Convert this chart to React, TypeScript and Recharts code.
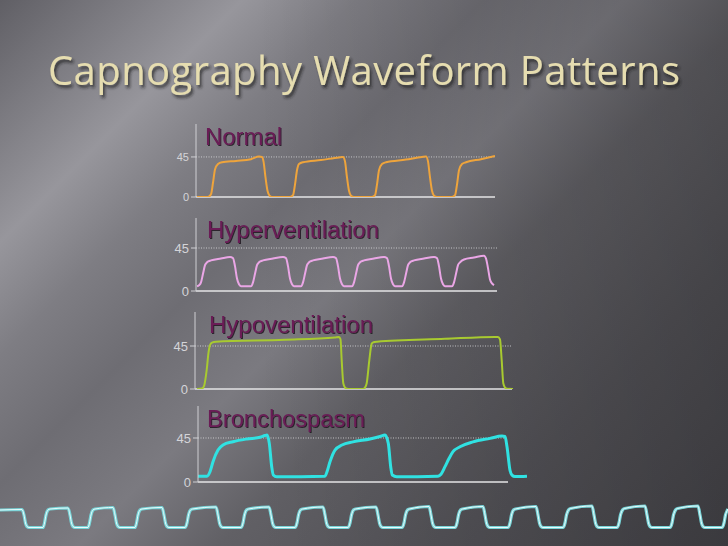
import { Line, LineChart, ReferenceLine, XAxis, YAxis } from "recharts";

const titleText = "Capnography Waveform Patterns";
const panelLabels = ["Normal", "Hyperventilation", "Hypoventilation", "Bronchospasm"];
const yTicks = [0, 45];

// time (arbitrary units) / CO2 (mmHg)
const normalTime = [
	1, 12, 15, 17, 19, 22, 26, 40, 55, 63, 66, 67.5, 69.5, 71.5, 73.5, 76,
	94, 97, 99, 101, 103, 107, 125, 143, 147, 149, 151, 153, 155, 158,
	176, 179, 181, 183, 186, 190, 210, 226, 230, 232, 234, 236, 238, 241,
	256, 259, 261, 263, 266, 270, 285, 299,
];
const normalCo2 = [
	0, 0, 3, 16, 31, 37, 39, 40.5, 42.5, 45.5, 45, 40, 22, 7, 1.5, 0,
	0, 2, 14, 30, 37, 39, 41.5, 44.5, 45, 40, 22, 7, 1.5, 0,
	0, 2, 14, 30, 37, 39, 42, 45, 45.5, 40, 22, 7, 1.5, 0,
	0, 2, 14, 30, 37, 39, 42.5, 46,
];

const hyperTime = [
	1, 3, 5, 7, 9, 11, 15, 25, 34, 37, 39, 41, 43, 45, 55,
	57, 59, 61, 63, 67, 77, 87, 90, 92, 94, 96, 98, 105,
	107, 109, 111, 113, 117, 127, 137, 140, 142, 144, 146, 148, 156,
	158, 160, 162, 164, 168, 178, 188, 191, 193, 195, 197, 199, 206,
	208, 210, 212, 214, 218, 228, 238, 241, 243, 245, 247, 249, 256,
	258, 260, 262, 264, 268, 278, 288, 290, 292, 294, 296, 298,
];
const hyperCo2 = [
	5, 6, 9, 18, 27, 30, 32, 34, 35.5, 34.5, 26, 13, 7, 5, 5,
	9, 18, 27, 30, 32, 34, 35.5, 34.5, 26, 13, 7, 5, 5,
	9, 18, 27, 30, 32, 34, 35.5, 34.5, 26, 13, 7, 5, 5,
	9, 18, 27, 30, 32, 34, 35.5, 34.5, 26, 13, 7, 5, 5,
	9, 18, 27, 30, 32, 34, 35.5, 34.5, 26, 13, 7, 5, 5,
	9, 18, 27, 30, 33, 35, 37, 34, 24, 12, 8, 6,
];

const hypoTime = [
	2, 7, 9, 11.7, 13.5, 15, 17, 21, 90, 140, 144, 145.5, 146.7, 148.3, 150, 152, 155,
	168, 170, 171.7, 174.3, 176.7, 178.5, 182, 250, 300, 303, 305, 306.7, 308.3, 310, 312, 318,
];
const hypoCo2 = [
	0, 0.5, 3, 20, 38, 46, 48.5, 49.5, 51.5, 54, 54.5, 52, 30, 6, 1.5, 0.3, 0,
	0, 1.5, 6, 30, 47.5, 49, 49.5, 52.5, 54.5, 54.5, 52, 30, 6, 1.5, 0.3, 0,
];

const bronchoTime = [
	0, 9, 12, 15, 20, 25, 35, 49, 62, 67, 69, 71.3, 73.7, 75.3, 78.7, 127,
	129, 132, 137, 144, 155, 172, 182, 187, 190.3, 192.7, 194.3, 198.7, 240,
	243, 247, 251, 255, 262, 275, 292, 304, 307, 309, 312, 314, 317, 329,
];
const bronchoCo2 = [
	6, 6, 10.5, 20.8, 32.7, 37.8, 41.2, 44, 45.7, 47.5, 48, 39.5, 15.6, 7.2, 5.4, 6,
	10.5, 20.8, 32.7, 37.8, 41, 44, 46.5, 48, 39.5, 15.6, 7.2, 5.4, 6,
	8, 15.7, 24, 31, 36, 41, 44.6, 47, 46.5, 36, 12, 7, 5.5, 6,
];

// decorative capnogram strip along the bottom
const waveTime = [
	0, 22, 24, 25.5, 27, 29, 43, 44.5, 46, 48, 50, 68, 70, 71.5, 73, 75, 88,
	89.5, 91, 93, 95, 113, 115, 116.5, 118, 120, 135, 136.5, 138, 140, 142, 162,
	164, 165.5, 167, 169, 185, 187, 188.5, 190.5, 192.5, 216, 218, 219.5, 221, 223, 241,
	243, 244.5, 246.5, 248.5, 269, 271, 272.5, 274, 276, 295, 297, 298.5, 300.5, 302.5, 323,
	325, 326.5, 328, 330, 348, 350, 351.5, 353.5, 355.5, 376, 378, 379.5, 381, 383, 402,
	404, 405.5, 407.5, 409.5, 429, 431, 432.5, 434, 436, 455, 457, 458.5, 460.5, 462.5, 483,
	485, 486.5, 488, 490, 508, 510, 511.5, 513.5, 515.5, 536, 538, 539.5, 541, 543, 563,
	565, 566.5, 568.5, 570.5, 592, 594, 595.5, 597, 599, 617, 619, 620.5, 622.5, 624.5, 645,
	647, 648.5, 650, 652, 670, 672, 673.5, 675.5, 677.5, 698, 700, 701.5, 703, 705, 722,
	724, 725.5, 727.5, 728,
];
const waveLevel = [
	25, 25.5, 20, 12, 8.5, 7.5, 7.5, 12, 20, 25, 26, 27, 20, 12, 8.5, 7.5, 7.5,
	12, 20, 25, 26, 27.5, 20, 12, 8.5, 7.5, 7.5, 12, 20, 25, 26, 27.5,
	20, 12, 8.5, 7.5, 7.5, 12, 20, 25, 26, 28, 20, 12, 8.5, 7.5, 7.5,
	12, 20, 25, 26, 28, 20, 12, 8.5, 7.5, 7.5, 12, 20, 25, 26, 28,
	20, 12, 8.5, 7.5, 7.5, 12, 20, 25, 26, 28, 20, 12, 8.5, 7.5, 7.5,
	12, 20, 25, 26, 28.5, 20, 12, 8.5, 7.5, 7.5, 12, 20, 25, 26, 28.5,
	20, 12, 8.5, 7.5, 7.5, 12, 20, 25, 26, 28.5, 20, 12, 8.5, 7.5, 7.5,
	12, 20, 25, 26.5, 29, 20, 12, 8.5, 7.5, 7.5, 12, 20, 25, 26.5, 29,
	20, 12, 8.5, 7.5, 7.5, 12, 20, 25, 26.5, 29, 20, 12, 8.5, 7.5, 7.5,
	12, 20, 25, 26,
];

const toRows = (t: number[], v: number[]) => t.map((x, i) => ({ t: x, co2: v[i] }));

const labelFont = "'Liberation Sans', Arial, sans-serif";

type PanelProps = {
	rows: { t: number; co2: number }[];
	color: string;
	strokeWidth: number;
	axisX: number;
	plotTop: number;
	plotBottom: number;
	plotRight: number;
	xMax: number;
	yMax: number;
	axisEnd: number;
	refEnd: number;
	fontSize: number;
};

function Panel({ rows, color, strokeWidth, axisX, plotTop, plotBottom, plotRight, xMax, yMax, axisEnd, refEnd, fontSize }: PanelProps) {
	const left = 150;
	const margin = { top: 4, right: 4, bottom: 12, left: 0 };
	const width = plotRight - left + margin.right;
	const height = plotBottom - plotTop + margin.top + margin.bottom;
	return (
		<div style={{ position: "absolute", left, top: plotTop - margin.top }}>
			<LineChart width={width} height={height} data={rows} margin={margin}>
				<XAxis dataKey="t" type="number" domain={[0, xMax]} allowDataOverflow hide />
				<YAxis
					type="number"
					domain={[0, yMax]}
					ticks={yTicks}
					interval={0}
					allowDataOverflow
					width={axisX - left}
					stroke="#cfcfd3"
					tickSize={5}
					tickMargin={2}
					tick={{ fill: "#d4d4d8", fontSize, fontFamily: labelFont }}
				/>
				<ReferenceLine
					segment={[{ x: 0, y: 45 }, { x: refEnd, y: 45 }]}
					stroke="#e6e6e8"
					strokeOpacity={0.75}
					strokeDasharray="1 1.5"
				/>
				<ReferenceLine segment={[{ x: 0, y: 0 }, { x: axisEnd, y: 0 }]} stroke="#e4e4e6" strokeWidth={1.5} />
				<Line
					dataKey="co2"
					type="monotone"
					stroke={color}
					strokeWidth={strokeWidth}
					dot={false}
					isAnimationActive={false}
				/>
			</LineChart>
		</div>
	);
}

export default function App() {
	const waveRows = toRows(waveTime, waveLevel);
	return (
		<div
			style={{
				position: "absolute",
				left: 0,
				top: 0,
				width: 728,
				height: 546,
				overflow: "hidden",
				background:
					"linear-gradient(to right, rgba(0,0,0,0) 35%, rgba(0,0,0,0.18) 100%), linear-gradient(135deg, #605f65 0%, #97969c 19%, #7e7d83 28%, #6e6d73 38%, #7b7a80 49%, #616065 60%, #535257 78%, #47464b 100%)",
			}}
		>
			<Panel rows={toRows(normalTime, normalCo2)} color="#eea43c" strokeWidth={2} axisX={196} plotTop={124} plotBottom={197} plotRight={495} xMax={299} yMax={82} axisEnd={299} refEnd={299} fontSize={11} />
			<Panel rows={toRows(hyperTime, hyperCo2)} color="#eaa6e6" strokeWidth={2} axisX={196} plotTop={218} plotBottom={291} plotRight={497} xMax={301} yMax={76.4} axisEnd={301} refEnd={301} fontSize={13} />
			<Panel rows={toRows(hypoTime, hypoCo2)} color="#a8ca30" strokeWidth={2} axisX={195} plotTop={312} plotBottom={389} plotRight={513} xMax={318} yMax={80.6} axisEnd={317} refEnd={317} fontSize={13} />
			<Panel rows={toRows(bronchoTime, bronchoCo2)} color="#30e2e2" strokeWidth={3} axisX={198} plotTop={406} plotBottom={482} plotRight={527} xMax={329} yMax={77.7} axisEnd={310} refEnd={308} fontSize={13} />

			<div style={{ position: "absolute", left: 0, top: 495 }}>
				<LineChart width={728} height={40} data={waveRows} margin={{ top: 0, right: 0, bottom: 0, left: 0 }}>
					<XAxis dataKey="t" type="number" domain={[0, 728]} hide />
					<YAxis type="number" domain={[0, 40]} hide />
					<Line dataKey="co2" type="monotone" stroke="#78d4d8" strokeWidth={3.2} dot={false} isAnimationActive={false} />
					<Line dataKey="co2" type="monotone" stroke="#e8fcfc" strokeWidth={1} dot={false} isAnimationActive={false} />
				</LineChart>
			</div>

			<svg width={728} height={546} style={{ position: "absolute", left: 0, top: 0, pointerEvents: "none" }}>
				<defs>
					<filter id="titleShadow" x="-5%" y="-30%" width="110%" height="160%">
						<feDropShadow dx="2" dy="3" stdDeviation="1.5" floodColor="#1a1a1a" floodOpacity="0.7" />
					</filter>
					<filter id="labelShadow" x="-5%" y="-30%" width="110%" height="160%">
						<feDropShadow dx="1" dy="1" stdDeviation="0.4" floodColor="#1c1018" floodOpacity="0.8" />
					</filter>
				</defs>
				<text
					x={48}
					y={85}
					fontSize={40}
					fontFamily="'Open Sans', sans-serif"
					fill="#e6ddb0"
					textLength={632}
					lengthAdjust="spacing"
					filter="url(#titleShadow)"
				>
					{titleText}
				</text>
				{[
					{ x: 205, y: 145, w: 77 },
					{ x: 207, y: 238, w: 172 },
					{ x: 209, y: 333, w: 164 },
					{ x: 207, y: 427, w: 158 },
				].map((p, i) => (
					<text
						key={panelLabels[i]}
						x={p.x}
						y={p.y}
						fontSize={23}
						fontFamily={labelFont}
						fill="#6a1d56"
						textLength={p.w}
						lengthAdjust="spacingAndGlyphs"
						filter="url(#labelShadow)"
					>
						{panelLabels[i]}
					</text>
				))}
			</svg>
		</div>
	);
}
